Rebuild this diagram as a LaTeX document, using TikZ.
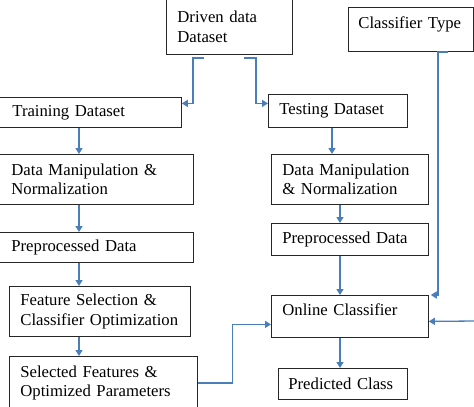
\documentclass[tikz,border=0pt]{standalone}
\usepackage{fontspec}
\setmainfont{Liberation Serif}
\usetikzlibrary{arrows.meta}
\definecolor{arrblue}{HTML}{4A7EBB}
\begin{document}
\begin{tikzpicture}[x=1pt,y=-1pt,
  box/.style={draw=black!85, line width=0.8pt, anchor=north west, align=left,
    inner ysep=0pt, font=\fontsize{16.7}{19.5}\selectfont},
  arr/.style={draw=arrblue, line width=1.3pt, -{Triangle[length=6pt,width=7pt]}}]
\useasboundingbox (0,0) rectangle (474,407);
% boxes
\node[box, inner xsep=11pt, text width=104pt, minimum height=55pt] (drv) at (166,-1) {Driven~data\\Dataset};
\node[box, inner xsep=10pt, text width=105pt, minimum height=44pt, text height=11.5pt, text depth=13.5pt] (ctype) at (348,7) {Classifier~Type};
\node[box, inner xsep=13pt, text width=156pt, minimum height=30pt] (train) at (-1,97) {Training~Dataset};
\node[box, inner xsep=11pt, text width=117pt, minimum height=33pt] (test) at (268,94) {Testing~Dataset};
\node[box, inner xsep=12pt, text width=170pt, minimum height=50pt] (dm1) at (-1,154) {Data~Manipulation~\&\\Normalization};
\node[box, inner xsep=12pt, text width=170pt, minimum height=30pt] (pp1) at (-1,232) {Preprocessed~Data};
\node[box, inner xsep=11pt, text width=159pt, minimum height=50pt] (fs) at (9,286) {Feature~Selection~\&\\Classifier~Optimization};
\node[box, inner xsep=11pt, text width=166pt, minimum height=53pt] (sf) at (9,356) {Selected~Features~\&\\Optimized~Parameters};
\node[box, inner xsep=11pt, text width=135pt, minimum height=50pt] (dm2) at (271,154) {Data~Manipulation\\\&~Normalization};
\node[box, inner xsep=11pt, text width=135pt, minimum height=32pt] (pp2) at (271,223) {Preprocessed~Data};
\node[box, inner xsep=11pt, text width=135pt, minimum height=42pt, text height=11.5pt, text depth=13.5pt] (oc) at (271,295) {Online~Classifier};
\node[box, inner xsep=10pt, text width=109pt, minimum height=31pt] (pc) at (278,368) {Predicted~Class};
% helper coordinates
\coordinate (cL) at (79,0);
\coordinate (cT) at (332,0);
\coordinate (cR) at (340,0);
\coordinate (d1) at (204,58);
\coordinate (d2) at (244,58);
\coordinate (c1) at (448,52);
\coordinate (rin) at (476,321);
% connectors
\draw[arr] (d1) -- ++(-11,0) |- ([yshift=9pt]train.east);
\draw[arr] (d2) -- ++(12,0) |- ([yshift=7.5pt]test.west);
\draw[arr] (c1) -- ++(-10,0) |- ([xshift=2pt]oc.north east);
\draw[arr] (train.south -| cL) -- (dm1.north -| cL);
\draw[arr] (dm1.south -| cL) -- (pp1.north -| cL);
\draw[arr] (pp1.south -| cL) -- (fs.north -| cL);
\draw[arr] (fs.south -| cL) -- (sf.north -| cL);
\draw[arr] (test.south -| cT) -- (dm2.north -| cT);
\draw[arr] (dm2.south -| cR) -- (pp2.north -| cR);
\draw[arr] (pp2.south -| cR) -- (oc.north -| cR);
\draw[arr] (oc.south -| cR) -- (pc.north -| cR);
\draw[arr] (sf.east) -- ++(35,0) |- ([yshift=-8pt]oc.west);
\draw[arr] (rin) -- ([yshift=-5pt]oc.east);
\end{tikzpicture}
\end{document}
